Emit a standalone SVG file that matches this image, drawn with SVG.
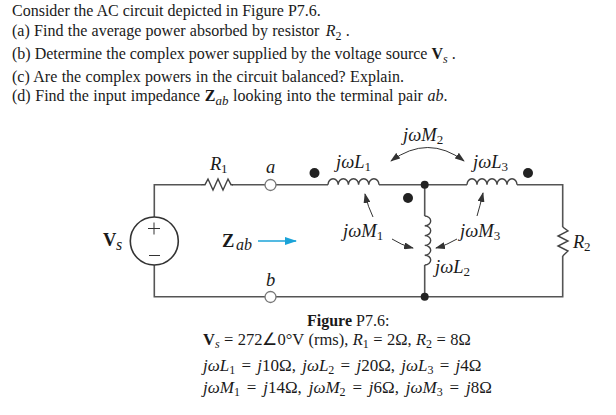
<svg xmlns="http://www.w3.org/2000/svg" width="616" height="415" viewBox="0 0 616 415">
<style>
text{font-family:"Liberation Serif","Times New Roman",serif;fill:#1a1a1a;font-size:16px}
.l{font-size:18.500px}
.i{font-style:italic}
.b{font-weight:bold}
.s{font-size:13px;font-style:normal}
.w{fill:none;stroke:#555;stroke-width:1.6}
.c{fill:none;stroke:#444;stroke-width:1.400}
.k{fill:none;stroke:#333;stroke-width:1}
.d{fill:#222}
.t{fill:#fff;stroke:#777;stroke-width:1.300}
</style>
<defs>
<marker id="ah" markerWidth="10" markerHeight="7" refX="9" refY="3.500" orient="auto-start-reverse" markerUnits="userSpaceOnUse"><path d="M0 0L10 3.500L0 7Z" fill="#333"/></marker>
<marker id="bh" markerWidth="12" markerHeight="8" refX="11" refY="4" orient="auto" markerUnits="userSpaceOnUse"><path d="M0 0L12 4L0 8Z" fill="#1ba3d8"/></marker>
</defs>
<g id="problem">
<text x="12" y="16">Consider the AC circuit depicted in Figure P7.6.</text>
<text x="12" y="36" word-spacing="0.300">(a) Find the average power absorbed by resistor <tspan class="i" dx="2">R</tspan><tspan font-size="12" dy="4">2</tspan><tspan dy="-4"> .</tspan></text>
<text x="12" y="59">(b) Determine the complex power supplied by the voltage source <tspan class="b">V</tspan><tspan class="i" font-size="12" dy="4">s</tspan><tspan dy="-4"> .</tspan></text>
<text x="12" y="82" word-spacing="0.400">(c) Are the complex powers in the circuit balanced? Explain.</text>
<text x="12" y="101" word-spacing="0.600">(d) Find the input impedance <tspan class="b">Z</tspan><tspan class="i" font-size="13" dy="4">ab</tspan><tspan dy="-4"> looking into the terminal pair </tspan><tspan class="i">ab</tspan>.</text>
</g>
<g id="connectors">
<path class="w" d="M154.300 217V184.700H202M232 184.700H328M379 184.700H467M517 184.700H562.700V227M562.700 256V296.700H154.300V265"/>
<path class="w" d="M424.700 184.700V216M424.700 265V296.700"/>
<path class="k" d="M391 161Q428 134 464 161" marker-start="url(#ah)" marker-end="url(#ah)"/>
<path class="k" d="M373 217Q368 207 365 194" marker-end="url(#ah)"/>
<path class="k" d="M392 239Q401 245 413 248" marker-end="url(#ah)"/>
<path class="k" d="M477 216Q480 206 483 193" marker-end="url(#ah)"/>
<path class="k" d="M457 239Q447 245 436 248" marker-end="url(#ah)"/>
<path d="M258 241H296" fill="none" stroke="#1ba3d8" stroke-width="1.500" marker-end="url(#bh)"/>
</g>
<g id="Vs">
<circle cx="154.300" cy="241" r="24" fill="#fff" stroke="#333" stroke-width="1.600"/>
<path class="k" d="M148 228.500H160M154 222.500V234.500M149 255.500H160"/>
<text x="103" y="246" class="l b">V</text><text x="116" y="250" font-size="13" class="i">s</text>
</g>
<g id="R1">
<path class="c" d="M201.700 184.700L205 184.700L208 179L213 190L218 179L223 190L228 179L231 184.700L233 184.700"/>
<text x="210" y="170" class="l i">R</text><text x="221" y="173" class="s">1</text>
</g>
<g id="a"><circle class="t" cx="270.500" cy="185" r="5.500"/><text x="266" y="173" class="l i">a</text></g>
<g id="b"><circle class="t" cx="270.500" cy="297" r="5.500"/><text x="266" y="286" class="l i">b</text></g>
<g id="Zab">
<text x="222" y="247" class="l b">Z</text><text x="236" y="250" font-size="14" class="i">ab</text>
</g>
<g id="L1">
<path class="c" d="M328 184.700A5.100 6 0 0 1 338.200 184.700A5.100 6 0 0 1 348.400 184.700A5.100 6 0 0 1 358.600 184.700A5.100 6 0 0 1 368.800 184.700A5.100 6 0 0 1 379 184.700"/>
<circle class="d" cx="314.500" cy="173" r="5"/>
<text x="336" y="168" class="l i">jωL<tspan class="s" dy="3">1</tspan></text>
</g>
<g id="L3">
<path class="c" d="M467 184.700A5 6 0 0 1 477 184.700A5 6 0 0 1 487 184.700A5 6 0 0 1 497 184.700A5 6 0 0 1 507 184.700A5 6 0 0 1 517 184.700"/>
<circle class="d" cx="528" cy="173" r="5"/>
<text x="473" y="168" class="l i">jωL<tspan class="s" dy="3">3</tspan></text>
</g>
<g id="L2">
<path class="c" d="M424.700 216A6 4.900 0 0 1 424.700 225.800A6 4.900 0 0 1 424.700 235.600A6 4.900 0 0 1 424.700 245.400A6 4.900 0 0 1 424.700 255.200A6 4.900 0 0 1 424.700 265"/>
<circle class="d" cx="408" cy="198" r="5"/>
<text x="435" y="273" class="l i">jωL<tspan class="s" dy="3">2</tspan></text>
</g>
<g id="junctions">
<circle class="d" cx="424.700" cy="184.700" r="4"/>
<circle class="d" cx="424.700" cy="296.700" r="4"/>
</g>
<g id="R2">
<path class="c" d="M562.700 227L568 231L558 236L568 241L558 246L568 251L562.700 256"/>
<text x="573" y="248" class="l i">R</text><text x="584" y="251" class="s">2</text>
</g>
<g id="mutual">
<text x="403" y="141" class="l i">jωM<tspan class="s" dy="3">2</tspan></text>
<text x="343" y="236.500" class="l i">jωM<tspan class="s" dy="3">1</tspan></text>
<text x="460" y="236.500" class="l i">jωM<tspan class="s" dy="3">3</tspan></text>
</g>
<g id="values">
<text x="307" y="326" class="b">Figure <tspan font-weight="normal">P7.6:</tspan></text>
<text x="203" y="345" word-spacing="0.300" style="font-size:16.500px"><tspan class="b">V</tspan><tspan class="i" font-size="12" dy="3">s</tspan><tspan dy="-3"> = 272∠0°V (rms), </tspan><tspan class="i">R</tspan><tspan font-size="12" dy="3">1</tspan><tspan dy="-3"> = 2Ω, </tspan><tspan class="i">R</tspan><tspan font-size="12" dy="3">2</tspan><tspan dy="-3"> = 8Ω</tspan></text>
<text x="203" y="371" word-spacing="2" style="font-size:17px"><tspan class="i">jωL</tspan><tspan font-size="12" dy="3">1</tspan><tspan dy="-3"> = </tspan><tspan class="i">j</tspan>10Ω, <tspan class="i">jωL</tspan><tspan font-size="12" dy="3">2</tspan><tspan dy="-3"> = </tspan><tspan class="i">j</tspan>20Ω, <tspan class="i">jωL</tspan><tspan font-size="12" dy="3">3</tspan><tspan dy="-3"> = </tspan><tspan class="i">j</tspan>4Ω</text>
<text x="203" y="393" word-spacing="2.600" style="font-size:17px"><tspan class="i">jωM</tspan><tspan font-size="12" dy="3">1</tspan><tspan dy="-3"> = </tspan><tspan class="i">j</tspan>14Ω, <tspan class="i">jωM</tspan><tspan font-size="12" dy="3">2</tspan><tspan dy="-3"> = </tspan><tspan class="i">j</tspan>6Ω, <tspan class="i">jωM</tspan><tspan font-size="12" dy="3">3</tspan><tspan dy="-3"> = </tspan><tspan class="i">j</tspan>8Ω</text>
</g>
</svg>
